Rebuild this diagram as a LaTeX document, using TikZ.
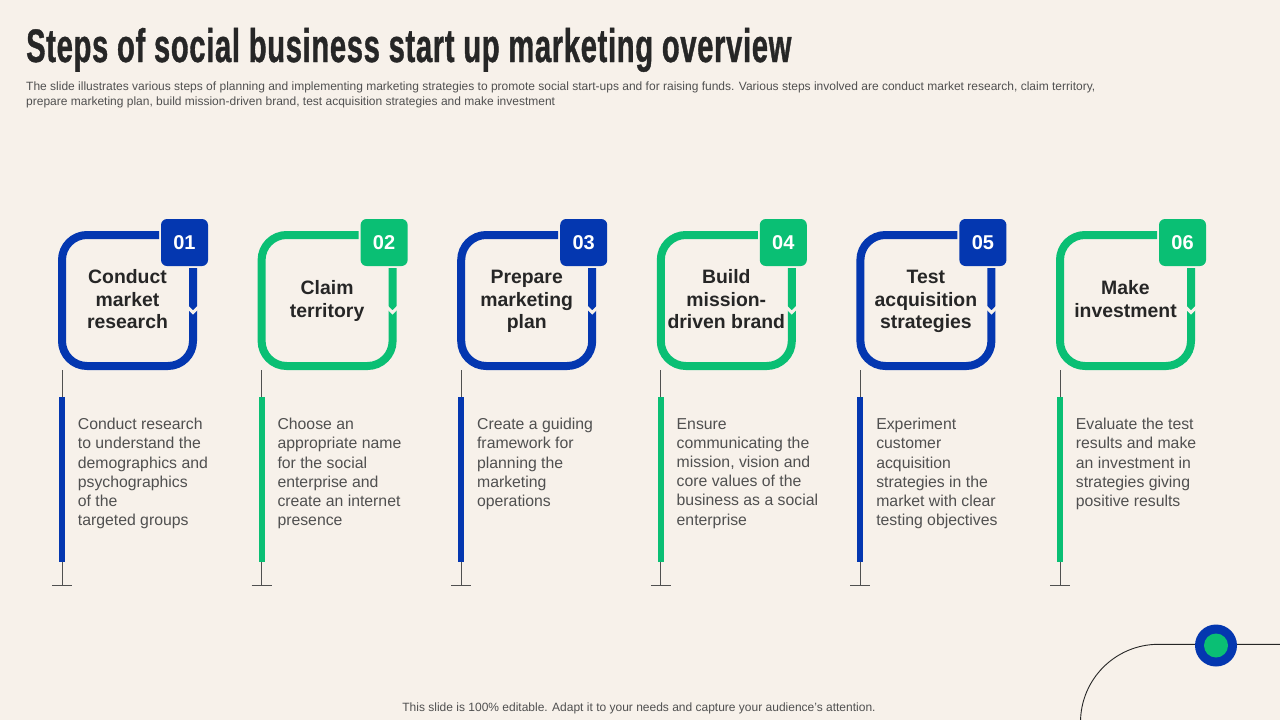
\documentclass[tikz,border=0pt]{standalone}
\usepackage{fontspec}
\setmainfont{Liberation Sans}
\newfontfamily\titlefont[FakeStretch=0.62,LetterSpace=1.45,FakeBold=0.8]{Liberation Sans Bold}
\definecolor{pagebg}{HTML}{F7F1EA}
\definecolor{inkdark}{HTML}{262626}
\definecolor{inkgrey}{HTML}{505050}
\definecolor{bluemark}{HTML}{0437B0}
\definecolor{greenmark}{HTML}{0ABF74}
\tikzset{
  titletext/.style={inner sep=0pt,anchor=base west,text=inkdark,font=\titlefont\fontsize{47}{47}\selectfont},
  subtext/.style={inner sep=0pt,anchor=north west,align=left,text=inkgrey,font=\fontsize{12}{14.4}\selectfont},
  headtext/.style={inner sep=0pt,align=center,text=inkdark,font=\bfseries\fontsize{19.4}{22.6}\selectfont},
  desctext/.style={inner sep=0pt,anchor=north west,align=left,text=inkgrey,font=\fontsize{15.8}{19.2}\selectfont},
  badge/.style={minimum width=47pt,minimum height=47pt,inner sep=0pt,rounded corners=6pt,text=white,font=\bfseries\fontsize{20}{20}\selectfont},
  sidebar/.style={minimum width=6pt,minimum height=165pt,inner sep=0pt},
  thin/.style={draw=inkgrey,line width=0.9pt},
  ring/.style={line width=8pt,rounded corners=25pt},
}
\begin{document}
\begin{tikzpicture}[x=1pt,y=-1pt]
\useasboundingbox[fill=pagebg] (0,0) rectangle (1280,720);
\node[titletext] (title) at (26,62) {Steps of social business start up marketing overview};
\node[subtext] (sub) at (26,82) {The slide illustrates various steps of planning and implementing marketing strategies to promote social start-ups and for raising funds. Various steps involved are conduct market research, claim territory,\\prepare marketing plan, build mission-driven brand, test acquisition strategies and make investment};
\foreach \i/\num/\col/\dx/\head/\desc in {
0/01/bluemark/0/{\strut Conduct\\market\\research\strut}/{Conduct research\\to understand the\\demographics and\\psychographics\\of the\\targeted groups},
1/02/greenmark/199.6/{\strut Claim\\territory\strut}/{Choose an\\appropriate name\\for the social\\enterprise and\\create an internet\\presence},
2/03/bluemark/399.2/{\strut Prepare\\marketing\\plan\strut}/{Create a guiding\\framework for\\planning the\\marketing\\operations},
3/04/greenmark/598.8/{\strut Build\\mission-\\driven brand\strut}/{Ensure\\communicating the\\mission, vision and\\core values of the\\business as a social\\enterprise},
4/05/bluemark/798.4/{\strut Test\\acquisition\\strategies\strut}/{Experiment\\customer\\acquisition\\strategies in the\\market with clear\\testing objectives},
5/06/greenmark/998/{\strut Make\\investment\strut}/{Evaluate the test\\results and make\\an investment in\\strategies giving\\positive results}}{
\begin{scope}[xshift=\dx pt]
  \coordinate (lineTop\i) at (62,370);
  \coordinate (lineEnd\i) at (62,585.5);
  \coordinate (barL\i) at (52,585.5);
  \coordinate (barR\i) at (72,585.5);
  \draw[thin] (lineTop\i) -- (lineEnd\i);
  \draw[thin] (barL\i) -- (barR\i);
  \draw[ring,draw=\col] (159,235) -- (62,235) -- (62,366) -- (193,366) -- (193,268);
  \draw[pagebg,line width=3pt] (187.5,307) -- (193,312.5) -- (198.5,307);
  \node[badge,fill=\col] (badge\i) at (184.5,242.5) {\num};
  \node[headtext] (head\i) at (127.5,301.5) {\head};
  \node[sidebar,fill=\col] (bar\i) at (62,479.5) {};
  \node[desctext] (desc\i) at (77.7,418) {\desc};
\end{scope}
}
\coordinate (arcStart) at (1080.5,720);
\coordinate (arcEnd) at (1280,644.3);
\draw[inkdark,line width=0.9pt,rounded corners=78pt] (arcStart) |- (arcEnd);
\node[circle,fill=bluemark,minimum size=42pt,inner sep=0pt] (dotOuter) at (1216,645.5) {};
\node[circle,fill=greenmark,minimum size=24pt,inner sep=0pt] (dotInner) at (1216,645.5) {};
\node[inner sep=0pt,text=inkgrey,font=\fontsize{12}{14}\selectfont] (foot) at (639,708) {This slide is 100\% editable. Adapt it to your needs and capture your audience's attention.};
\end{tikzpicture}
\end{document}
